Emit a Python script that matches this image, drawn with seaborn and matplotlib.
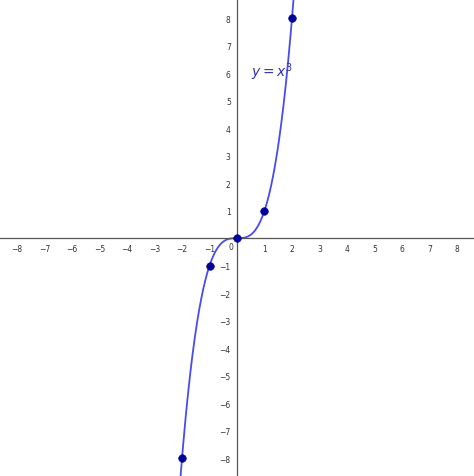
import numpy as np
import matplotlib
matplotlib.use("Agg")
import matplotlib.pyplot as plt
import seaborn as sns

sns.set_style("white")
curve_x = np.linspace(-2.1, 2.1, 400)
curve_y = curve_x ** 3
pts_x = [-2, -1, 0, 1, 2]
pts_y = [-8, -1, 0, 1, 8]
ticks = [-8, -7, -6, -5, -4, -3, -2, -1, 1, 2, 3, 4, 5, 6, 7, 8]

fig = plt.figure(figsize=(4.74, 4.77), dpi=100)
ax = fig.add_axes([0, 0, 1, 1])
sns.lineplot(x=curve_x, y=curve_y, ax=ax, color="#4a4af0", lw=1.3, sort=False)
sns.scatterplot(x=pts_x, y=pts_y, ax=ax, color="#00009a", s=30, edgecolor="#00009a", zorder=5)
ax.set_xlim(-8.62, 8.62)
ax.set_ylim(-8.65, 8.7)
for s in ["top", "right"]:
    ax.spines[s].set_visible(False)
for s in ["left", "bottom"]:
    ax.spines[s].set_position(("data", 0))
    ax.spines[s].set_color("#555555")
    ax.spines[s].set_linewidth(0.9)
ax.set_xticks(ticks)
ax.set_yticks(ticks)
ax.tick_params(direction="inout", length=5, width=0.8, color="#555555", labelsize=5.5, labelcolor="#333333", pad=2)
ax.text(-0.15, -0.15, "0", fontsize=5.5, color="#333333", ha="right", va="top")
ax.text(0.5, 5.9, r"$y = x^3$", fontsize=10, color="#3030b0", family="serif")
fig.savefig("out.png", dpi=100)
